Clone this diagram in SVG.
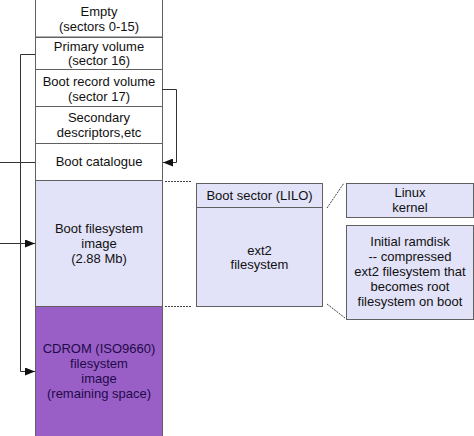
<svg xmlns="http://www.w3.org/2000/svg" width="474" height="436" viewBox="0 0 474 436">
<style>
.box{stroke:#606060;stroke-width:1}
.w{fill:#ffffff}
.lav{fill:#e2e2f8}
.pur{fill:#9a5fc6}
.t{font-family:"Liberation Sans",Arial,sans-serif;font-size:13px;fill:#111;text-anchor:middle}
.tp{fill:#1e0a4a}
.ln{fill:none;stroke:#333;stroke-width:1}
.dot{fill:none;stroke:#444;stroke-width:1;stroke-dasharray:2,1}
</style>
<defs>
<marker id="ah" viewBox="0 0 10 8" refX="10" refY="4" markerWidth="10" markerHeight="8" markerUnits="userSpaceOnUse" orient="auto">
<path d="M0,0 L10,4 L0,8 Z" fill="#111"/>
</marker>
</defs>
<rect x="0" y="0" width="474" height="436" fill="#ffffff"/>

<g id="empty"><rect class="box w" x="35.5" y="-1" width="127" height="38"/>
<text class="t" x="99" y="16">Empty</text><text class="t" x="99" y="31">(sectors 0-15)</text></g>
<g id="primary"><rect class="box w" x="35.5" y="37.5" width="127" height="32"/>
<text class="t" x="99" y="51">Primary volume</text><text class="t" x="99" y="65">(sector 16)</text></g>
<g id="bootrecord"><rect class="box w" x="35.5" y="69.5" width="127" height="37"/>
<text class="t" x="99" y="86">Boot record volume</text><text class="t" x="99" y="101">(sector 17)</text></g>
<g id="secondary"><rect class="box w" x="35.5" y="106.5" width="127" height="37"/>
<text class="t" x="99" y="122">Secondary</text><text class="t" x="99" y="137">descriptors,etc</text></g>
<g id="bootcatalogue"><rect class="box w" x="35.5" y="143.5" width="127" height="37"/>
<text class="t" x="99" y="166">Boot catalogue</text></g>
<g id="bootfs"><rect class="box lav" x="35.5" y="180.5" width="127" height="126"/>
<text class="t" x="99" y="233">Boot filesystem</text><text class="t" x="99" y="248">image</text><text class="t" x="99" y="263">(2.88 Mb)</text></g>
<g id="cdrom"><rect class="box pur" x="35.5" y="306.5" width="127" height="131"/>
<text class="t tp" x="99" y="353">CDROM (ISO9660)</text><text class="t tp" x="99" y="368">filesystem</text><text class="t tp" x="99" y="383">image</text><text class="t tp" x="99" y="398">(remaining space)</text></g>

<g id="bootsector"><rect class="box lav" x="196.5" y="183.5" width="126" height="24"/>
<text class="t" x="259.5" y="200">Boot sector (LILO)</text></g>
<g id="ext2"><rect class="box lav" x="196.5" y="207.5" width="126" height="99"/>
<text class="t" x="259.5" y="255">ext2</text><text class="t" x="259.5" y="269">filesystem</text></g>
<g id="kernel"><rect class="box lav" x="346.5" y="183.5" width="127" height="34"/>
<text class="t" x="410" y="197">Linux</text><text class="t" x="410" y="212">kernel</text></g>
<g id="ramdisk"><rect class="box lav" x="346.5" y="225.5" width="127" height="94"/>
<text class="t" x="410" y="246">Initial ramdisk</text><text class="t" x="410" y="261">-- compressed</text><text class="t" x="410" y="276">ext2 filesystem that</text><text class="t" x="410" y="291">becomes root</text><text class="t" x="410" y="306">filesystem on boot</text></g>

<g id="connectors">
<path class="ln" d="M0,162.5 H35"/>
<path class="ln" d="M0,243.5 H35" marker-end="url(#ah)"/>
<path class="ln" d="M35,54.5 H20.5 V371.5 H35" marker-end="url(#ah)"/>
<path class="ln" d="M162,89.5 H176.5 V162.5 H163" marker-end="url(#ah)"/>
<path class="dot" d="M165,181.5 H192"/>
<path class="dot" d="M165,306.5 H192"/>
<path class="dot" d="M327,208 L344,183"/>
<path class="dot" d="M327,304 L345,318"/>
</g>
</svg>
